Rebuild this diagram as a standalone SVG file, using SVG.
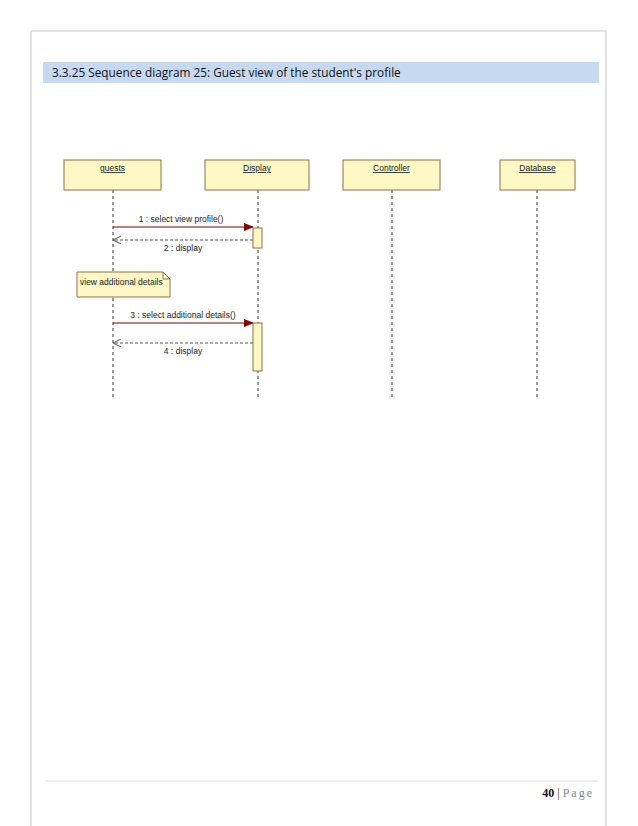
<svg xmlns="http://www.w3.org/2000/svg" width="638" height="826" viewBox="0 0 638 826">
<style>
.box{fill:#fdf9c4;stroke:#9a6b4b;stroke-width:1}
.lbl{font-family:"Liberation Sans",Arial,sans-serif;font-size:8.5px;fill:#222;text-anchor:middle}
.ll{stroke:#333;stroke-width:1;stroke-dasharray:3,3;fill:none}
.msg{stroke:#800000;stroke-width:1;fill:none}
.ret{stroke:#555;stroke-width:1;stroke-dasharray:3,2;fill:none}
.act{fill:#fdf9c4;stroke:#9a6b4b;stroke-width:1}
.ml{font-family:"Liberation Sans",Arial,sans-serif;font-size:8.5px;fill:#222;text-anchor:middle}
</style>
<defs>
<marker id="fill" markerWidth="10" markerHeight="8" refX="9" refY="4" orient="auto" markerUnits="userSpaceOnUse">
<path d="M0,0 L10,4 L0,8 Z" fill="#8b0000"/>
</marker>
<marker id="open" markerWidth="9" markerHeight="9" refX="8" refY="4" orient="auto" markerUnits="userSpaceOnUse">
<path d="M0,0 L8,4 L0,8" fill="none" stroke="#555" stroke-width="1"/>
</marker>
</defs>
<rect width="638" height="826" fill="#fff"/>
<path d="M31,826 V31 H606 V826" fill="none" stroke="#c8c8c8" stroke-width="1"/>
<rect x="43" y="62" width="556" height="21" fill="#c6d9f0"/>
<text x="52" y="77" font-family="'Open Sans','Liberation Sans',sans-serif" font-size="11.8" fill="#111">3.3.25 Sequence diagram 25: Guest view of the student's profile</text>
<line x1="45" y1="781" x2="598" y2="781" stroke="#ddd" stroke-width="1"/>
<text x="594" y="797" font-family="'Liberation Serif','Times New Roman',serif" font-size="12" text-anchor="end"><tspan font-weight="bold" fill="#111">40</tspan><tspan fill="#333"> | </tspan><tspan fill="#888" letter-spacing="2">Page</tspan></text>

<g id="connectors">
<line class="ll" x1="113" y1="190" x2="113" y2="398"/>
<line class="ll" x1="258" y1="190" x2="258" y2="398"/>
<line class="ll" x1="392" y1="190" x2="392" y2="398"/>
<line class="ll" x1="537" y1="190" x2="537" y2="398"/>
<line class="msg" x1="113" y1="227" x2="253" y2="227" marker-end="url(#fill)"/>
<line class="ret" x1="253" y1="240" x2="113" y2="240" marker-end="url(#open)"/>
<line class="msg" x1="113" y1="323" x2="253" y2="323" marker-end="url(#fill)"/>
<line class="ret" x1="253" y1="343" x2="113" y2="343" marker-end="url(#open)"/>
<text class="ml" x="181" y="222">1 : select view profile()</text>
<text class="ml" x="183" y="251">2 : display</text>
<text class="ml" x="183" y="318">3 : select additional details()</text>
<text class="ml" x="183" y="354">4 : display</text>
</g>

<g id="guests">
<rect class="box" x="64" y="160" width="97" height="30"/>
<text class="lbl" x="112.5" y="171" text-decoration="underline">guests</text>
</g>
<g id="display">
<rect class="box" x="205" y="160" width="104" height="30"/>
<text class="lbl" x="257" y="171" text-decoration="underline">Display</text>
</g>
<g id="controller">
<rect class="box" x="343" y="160" width="97" height="30"/>
<text class="lbl" x="391.5" y="171" text-decoration="underline">Controller</text>
</g>
<g id="database">
<rect class="box" x="500" y="160" width="75" height="30"/>
<text class="lbl" x="537.5" y="171" text-decoration="underline">Database</text>
</g>
<g id="activation1">
<rect class="act" x="253" y="228" width="9" height="20"/>
</g>
<g id="activation2">
<rect class="act" x="253" y="323" width="9" height="48"/>
</g>
<g id="note">
<path class="box" d="M77,272 H163 L170,279 V297 H77 Z"/>
<path d="M163,272 V279 H170" fill="none" stroke="#9a6b4b" stroke-width="1"/>
<text x="80" y="285" font-family="'Liberation Sans',Arial,sans-serif" font-size="8.5" fill="#222">view additional details</text>
</g>
</svg>
